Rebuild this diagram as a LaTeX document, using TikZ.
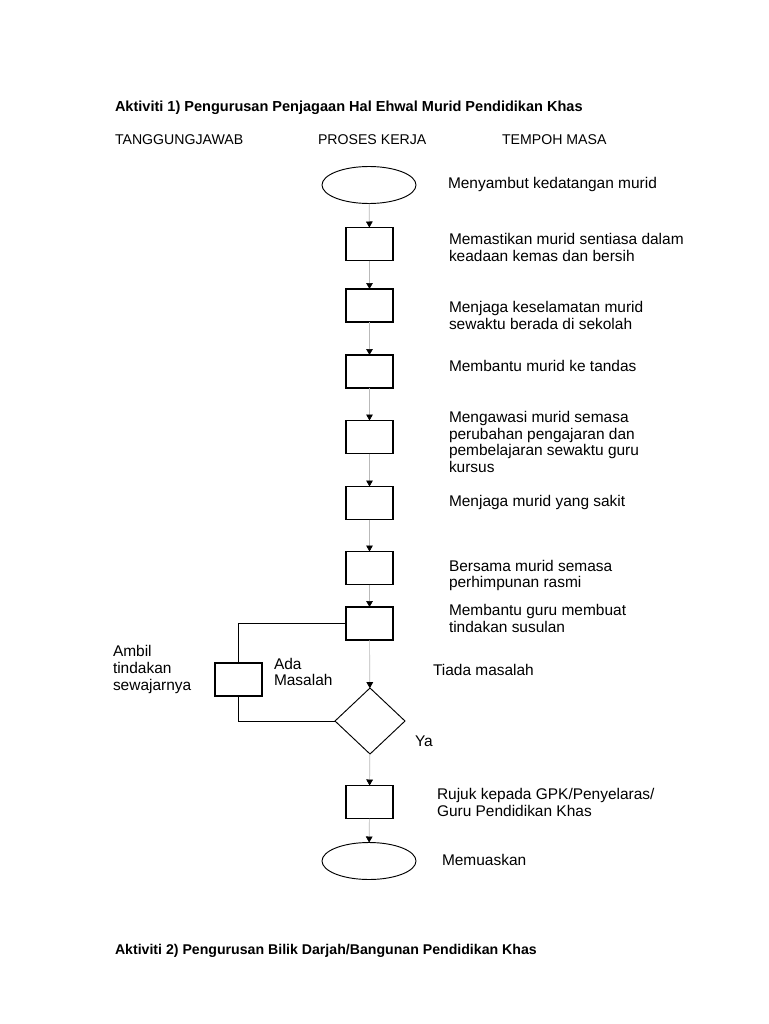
\documentclass[tikz,border=0pt]{standalone}
\usepackage{fontspec}
\setmainfont{Liberation Sans}
\usetikzlibrary{arrows.meta,shapes.geometric}
\begin{document}
\begin{tikzpicture}[x=0.75pt,y=-0.75pt,
 every node/.style={inner sep=0pt, outer sep=0pt},
 txt/.style={anchor=west, align=left, font=\fontsize{11.6}{12.4}\selectfont},
 hdr/.style={anchor=west, font=\fontsize{10.6}{12.4}\selectfont},
 ttl/.style={anchor=west, font=\bfseries\fontsize{10.9}{13}\selectfont},
 box/.style={draw, line width=0.85pt, minimum width=35.25pt, minimum height=24.75pt},
 oval/.style={draw, ellipse, line width=0.7pt, minimum width=70.5pt, minimum height=27.75pt},
 dia/.style={draw, diamond, line width=0.7pt, minimum width=52.5pt, minimum height=49.5pt},
 flow/.style={draw=gray!55, line width=0.5pt, -{Triangle[length=4.5pt,width=5pt,color=black]}},
 loopline/.style={draw=black, line width=0.75pt}]
\useasboundingbox[fill=white] (0,0) rectangle (768,1024);

% titles and headers
\node[ttl] (t1) at (115,108) {Aktiviti 1) Pengurusan Penjagaan Hal Ehwal Murid Pendidikan Khas};
\node[hdr] (h1) at (115,140) {TANGGUNGJAWAB};
\node[hdr] (h2) at (318,140) {PROSES KERJA};
\node[hdr] (h3) at (502,140) {TEMPOH MASA};
\node[ttl,font=\bfseries\fontsize{10.6}{13}\selectfont] (t2) at (115,951) {Aktiviti 2) Pengurusan Bilik Darjah/Bangunan Pendidikan Khas};

% shapes
\node[oval] (e1) at (369,185) {};
\node[box] (r1) at (369.5,244) {};
\node[box] (r2) at (369.5,305.5) {};
\node[box] (r3) at (369.5,371.5) {};
\node[box] (r4) at (369.5,437) {};
\node[box] (r5) at (369.5,503) {};
\node[box] (r6) at (369.5,568) {};
\node[box] (r7) at (369.5,623.5) {};
\node[dia] (d) at (370,721) {};
\node[box] (side) at (238.5,679.5) {};
\node[box] (r8) at (369.5,802) {};
\node[oval] (e2) at (369,861) {};

% texts
\node[txt] (l0) at (448,185) {Menyambut kedatangan murid};
\node[txt] (l1) at (449,247.5) {Memastikan murid sentiasa dalam\\keadaan kemas dan bersih};
\node[txt] (l2) at (449,315.5) {Menjaga keselamatan murid\\sewaktu berada di sekolah};
\node[txt] (l3) at (449,366) {Membantu murid ke tandas};
\node[txt] (l4) at (449,442) {Mengawasi murid semasa\\perubahan pengajaran dan\\pembelajaran sewaktu guru\\kursus};
\node[txt] (l5) at (449,502) {Menjaga murid yang sakit};
\node[txt] (l6) at (449,575.5) {Bersama murid semasa\\perhimpunan rasmi};
\node[txt] (l7) at (449,618.5) {Membantu guru membuat\\tindakan susulan};
\node[txt] (la) at (113,669.5) {Ambil\\tindakan\\sewajarnya};
\node[txt] (lb) at (274,672) {Ada\\Masalah};
\node[txt] (lc) at (433,669.5) {Tiada masalah};
\node[txt] (ld) at (415,741) {Ya};
\node[txt] (l8) at (437,802.5) {Rujuk kepada GPK/Penyelaras/\\Guru Pendidikan Khas};
\node[txt] (l9) at (442,860) {Memuaskan};

% connectors
\draw[flow] (e1) -- (r1);
\draw[flow] (r1) -- (r2);
\draw[flow] (r2) -- (r3);
\draw[flow] (r3) -- (r4);
\draw[flow] (r4) -- (r5);
\draw[flow] (r5) -- (r6);
\draw[flow] (r6) -- (r7);
\draw[flow] (r7) -- (d);
\draw[flow] (d) -- (r8);
\draw[flow] (r8) -- (e2);
\draw[loopline] (r7.west) -| (side.north);
\draw[loopline] (side.south) |- (d.west);
\end{tikzpicture}
\end{document}
